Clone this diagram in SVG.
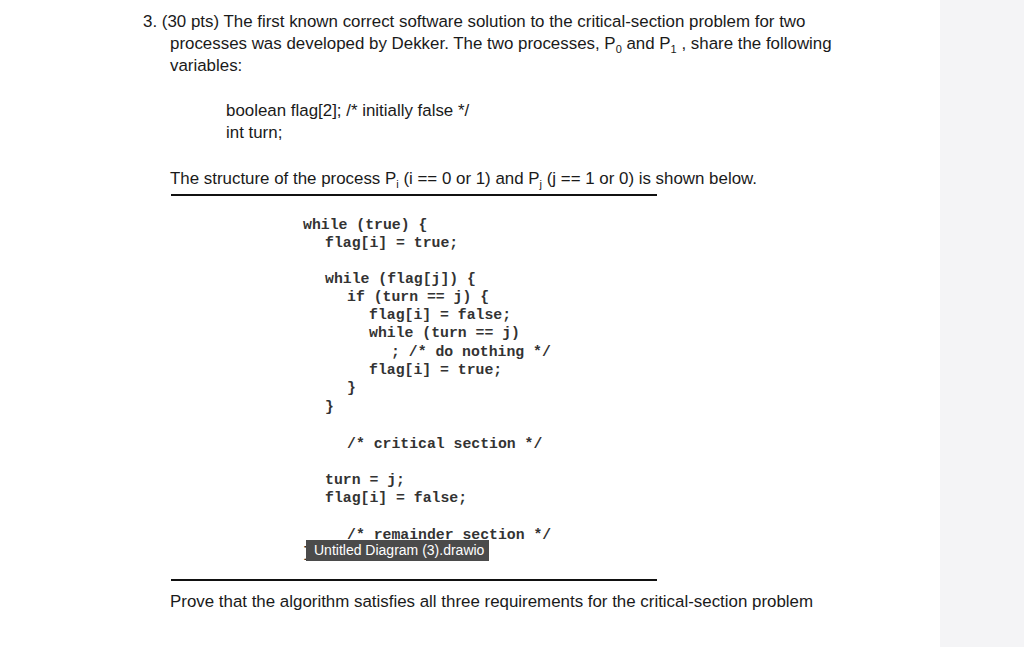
<svg xmlns="http://www.w3.org/2000/svg" width="1024" height="647" viewBox="0 0 1024 647" xml:space="preserve">
<style>
.t{font-family:"Liberation Sans",Arial,sans-serif;font-size:16.9px;fill:#1a1a1a}
.s{font-size:11px}
.c{font-family:"Liberation Mono","DejaVu Sans Mono",monospace;font-size:14.8px;font-weight:bold;fill:#333}
</style>
<rect width="1024" height="647" fill="#f4f4f6"/>
<rect x="0" y="0" width="940" height="647" fill="#fff"/>
<g id="question">
<text class="t" x="143" y="27">3.  (30 pts) The first known correct software solution to the critical-section problem for two</text>
<text class="t" x="170" y="49">processes was developed by Dekker. The two processes, P<tspan class="s" dy="4">0</tspan><tspan dy="-4"> and P</tspan><tspan class="s" dy="4">1</tspan><tspan dy="-4"> , share the following</tspan></text>
<text class="t" x="170" y="71">variables:</text>
<text class="t" x="226" y="116">boolean flag[2];   /* initially false */</text>
<text class="t" x="226" y="138">int turn;</text>
<text class="t" x="170" y="184">The structure of the process P<tspan class="s" dy="4">i</tspan><tspan dy="-4"> (i == 0 or 1)  and P</tspan><tspan class="s" dy="4">j</tspan><tspan dy="-4"> (j == 1 or 0) is shown below.</tspan></text>
<text class="t" x="170" y="607">Prove that the algorithm satisfies all three requirements for the critical-section problem</text>
</g>
<g id="rules" stroke="#111" stroke-width="2">
<line x1="171" y1="195" x2="657" y2="195"/>
<line x1="171" y1="580" x2="657" y2="580"/>
</g>
<g id="code">
<text class="c" x="303" y="229">while (true) {</text>
<text class="c" x="325" y="247">flag[i] = true;</text>
<text class="c" x="325" y="283">while (flag[j]) {</text>
<text class="c" x="347" y="301">if (turn == j) {</text>
<text class="c" x="369" y="319">flag[i] = false;</text>
<text class="c" x="369" y="337">while (turn == j)</text>
<text class="c" x="391" y="356">; /* do nothing */</text>
<text class="c" x="369" y="374">flag[i] = true;</text>
<text class="c" x="347" y="392">}</text>
<text class="c" x="325" y="411">}</text>
<text class="c" x="347" y="448">/* critical section */</text>
<text class="c" x="325" y="484">turn = j;</text>
<text class="c" x="325" y="502">flag[i] = false;</text>
<text class="c" x="347" y="539">/* remainder section */</text>
<text class="c" x="303" y="557">}</text>
</g>
<g id="tooltip">
<rect x="306" y="540" width="183" height="21" fill="#4b4b4b"/>
<text x="314" y="555" font-family="'Liberation Sans',Arial,sans-serif" font-size="14" fill="#fff">Untitled Diagram (3).drawio</text>
</g>
</svg>
